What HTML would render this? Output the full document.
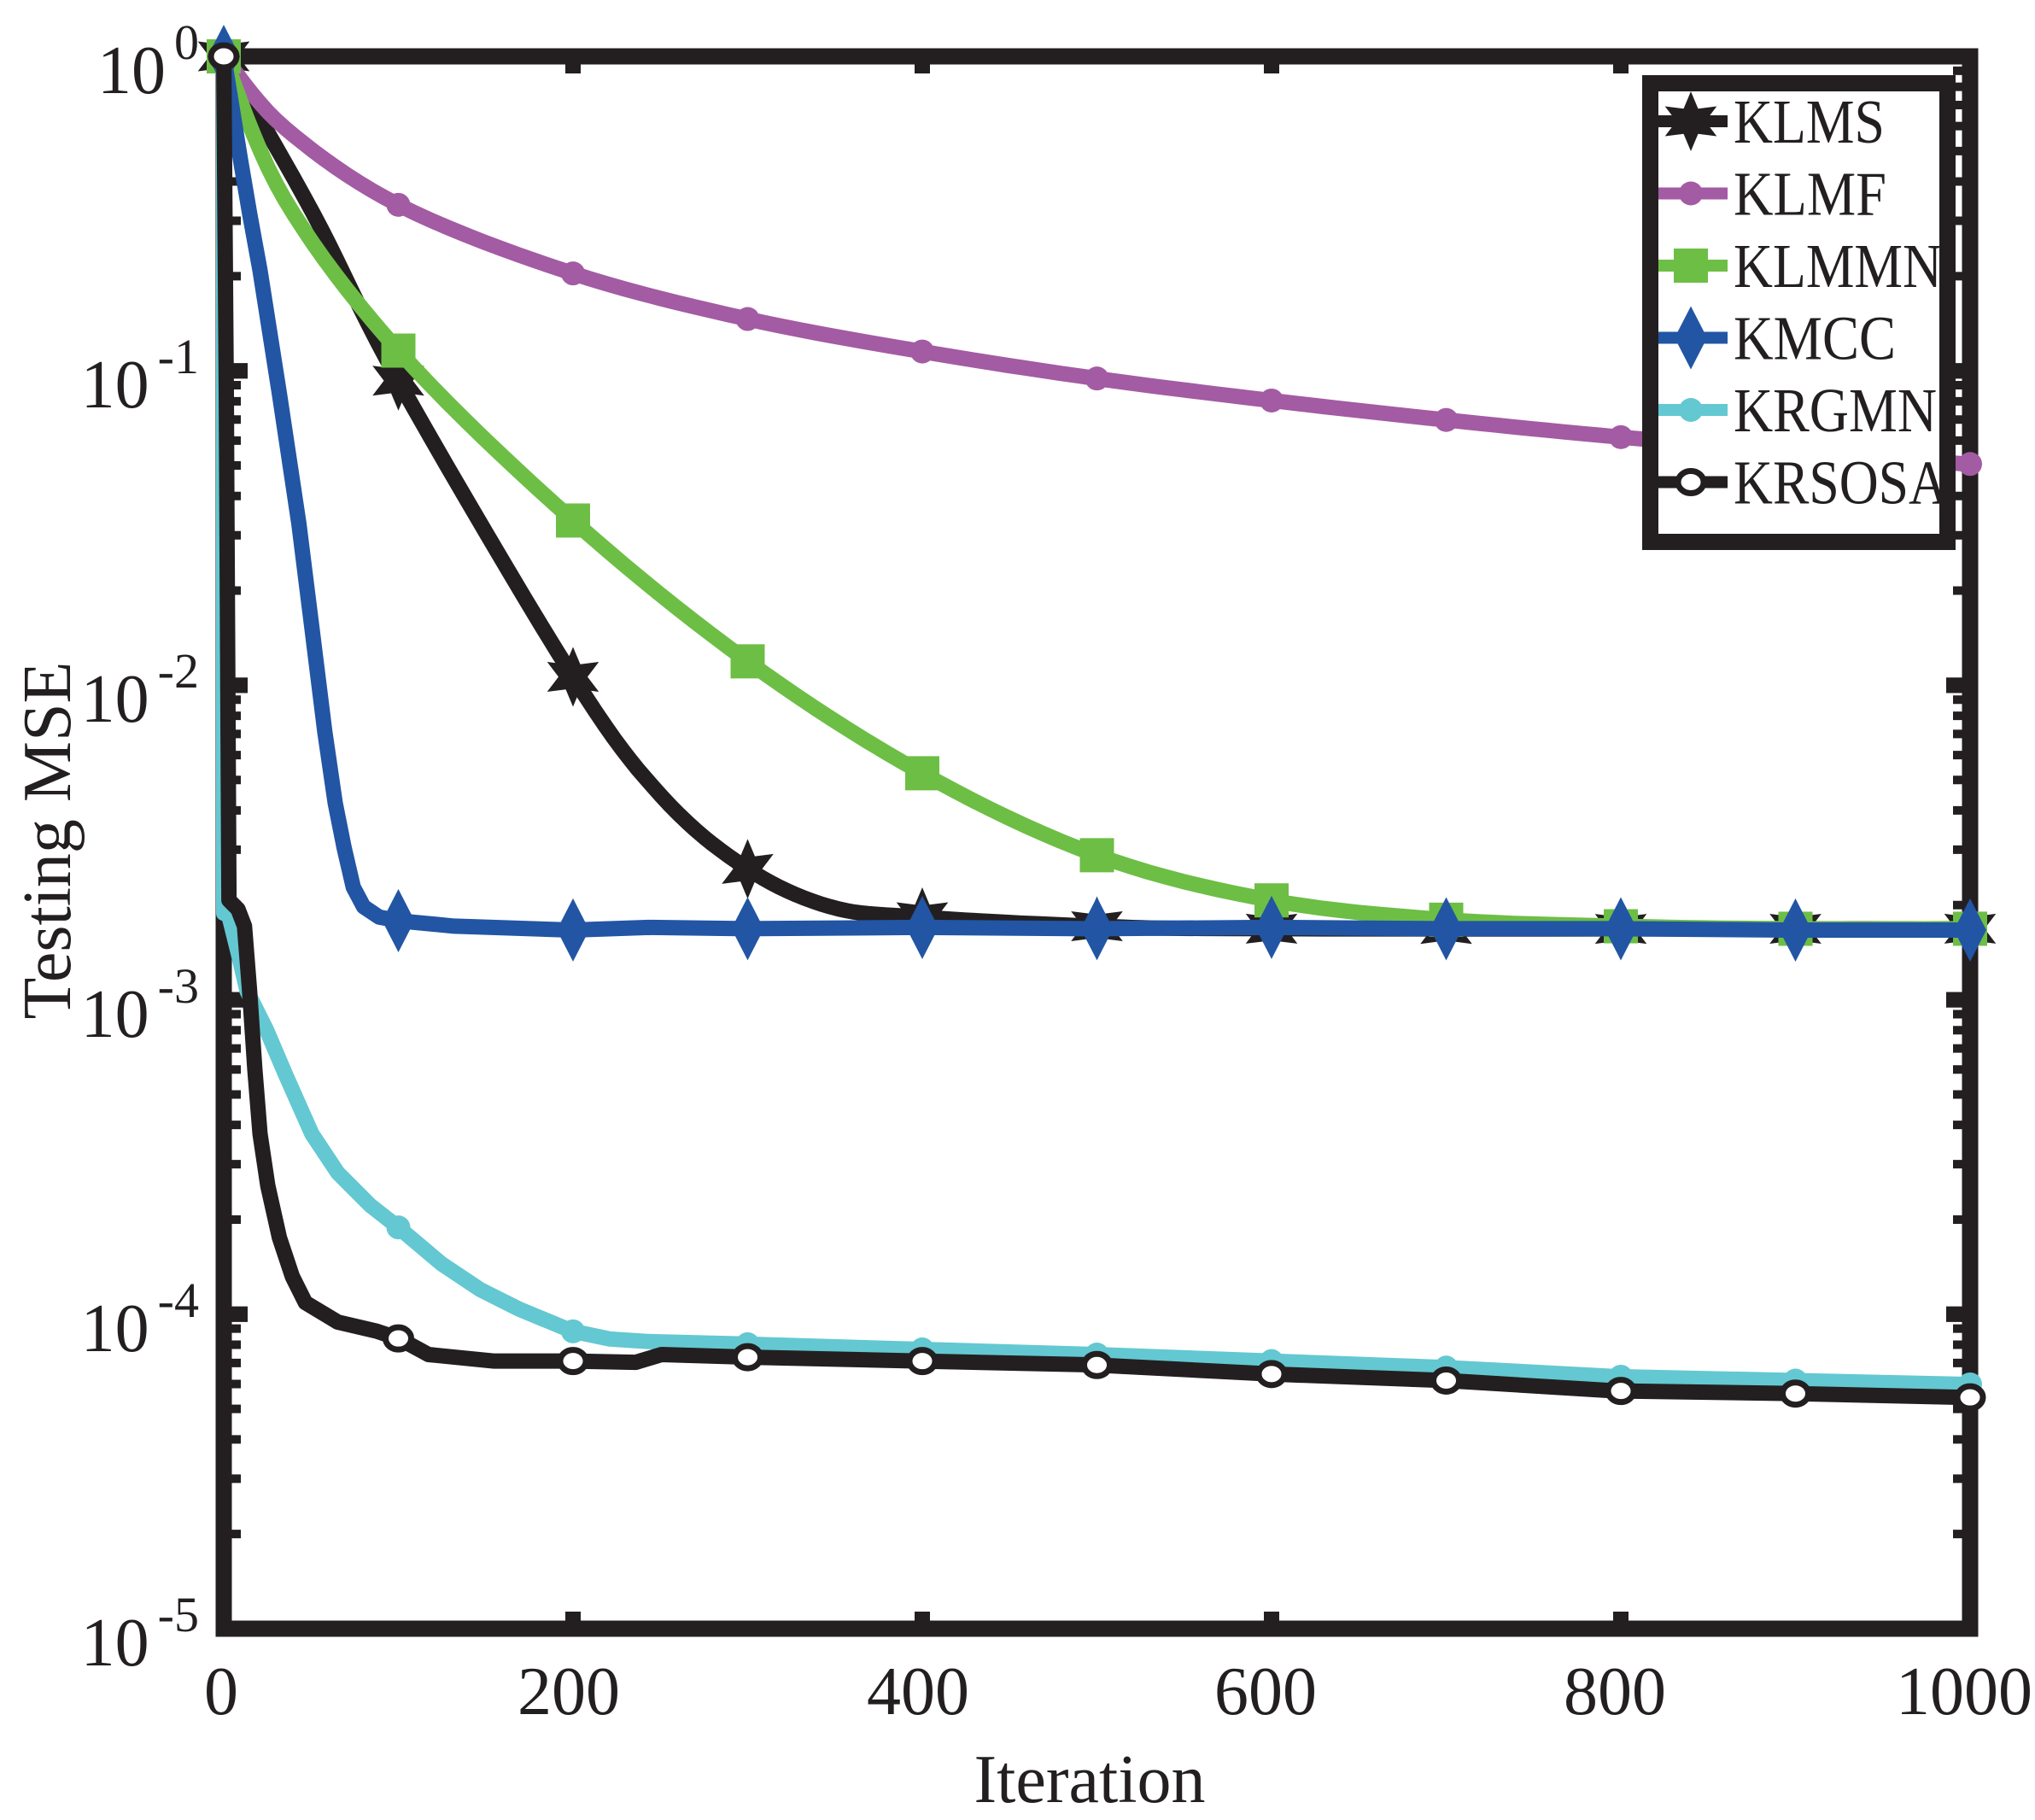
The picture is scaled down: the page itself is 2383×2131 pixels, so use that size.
<!DOCTYPE html>
<html><head><meta charset="utf-8"><style>
html,body{margin:0;padding:0;background:#fff;}
svg{display:block;}
text{font-family:"Liberation Serif","Times New Roman",serif;fill:#231F20;}
</style></head><body>
<svg id="s" width="2383" height="2131" viewBox="0 0 2383 2131" xmlns="http://www.w3.org/2000/svg">
<rect width="2383" height="2131" fill="#fff"/>
<g id="axes"></g>
<g id="series"></g>
<g id="labels" font-size="80">
<text x="233" y="109" text-anchor="end">10<tspan dx="10" dy="-40" font-size="58">0</tspan></text>
<text x="233" y="477" text-anchor="end">10<tspan dx="10" dy="-40" font-size="58">-1</tspan></text>
<text x="233" y="845" text-anchor="end">10<tspan dx="10" dy="-40" font-size="58">-2</tspan></text>
<text x="233" y="1214" text-anchor="end">10<tspan dx="10" dy="-40" font-size="58">-3</tspan></text>
<text x="233" y="1582" text-anchor="end">10<tspan dx="10" dy="-40" font-size="58">-4</tspan></text>
<text x="233" y="1950" text-anchor="end">10<tspan dx="10" dy="-40" font-size="58">-5</tspan></text>
<text x="259" y="2007" text-anchor="middle">0</text>
<text x="666" y="2007" text-anchor="middle">200</text>
<text x="1075" y="2007" text-anchor="middle">400</text>
<text x="1482" y="2007" text-anchor="middle">600</text>
<text x="1891" y="2007" text-anchor="middle">800</text>
<text x="2300" y="2007" text-anchor="middle">1000</text>
<text x="1276" y="2110" text-anchor="middle">Iteration</text>
<text transform="translate(82,984) rotate(-90)" text-anchor="middle">Testing MSE</text>
</g>
<g id="legend"></g>
</svg>
<script>
var NS="http://www.w3.org/2000/svg";
function el(p,n,a){var e=document.createElementNS(NS,n);for(var k in a)e.setAttribute(k,a[k]);p.appendChild(e);return e;}
var K="#231F20";
var X0=262,X1=2307,Y0=66,Y1=1907,DEC=(Y1-Y0)/5;
var ax=document.getElementById('axes');
for(var i=0;i<=1000;i+=200){var x=X0+i*2.045;
 el(ax,'line',{x1:x,x2:x,y1:Y1,y2:Y1-20,stroke:K,'stroke-width':18});
 el(ax,'line',{x1:x,x2:x,y1:Y0,y2:Y0+20,stroke:K,'stroke-width':18});}
for(var d=0;d<5;d++){for(var k=1;k<=10;k++){var y=Y0+DEC*(d+1)-Math.log10(k)*DEC;var L=(k==1||k==10)?28:20;var w=(k==1||k==10)?18:10;
 el(ax,'line',{x1:X0,x2:X0+L,y1:y,y2:y,stroke:K,'stroke-width':w});
 el(ax,'line',{x1:X1,x2:X1-L,y1:y,y2:y,stroke:K,'stroke-width':w});}}
el(ax,'rect',{x:X0,y:Y0,width:X1-X0,height:Y1-Y0,fill:'none',stroke:K,'stroke-width':19});

function cv(p){return p.map(function(q){return [262+(q[0]-172)*1.517,66+(q[1]-40)*1.52];});}
function smooth(p){var o=[];for(var i=0;i<p.length-1;i++){var p0=p[Math.max(0,i-1)],p1=p[i],p2=p[i+1],p3=p[Math.min(p.length-1,i+2)];
 for(var t=0;t<1;t+=0.1){var t2=t*t,t3=t2*t;
  var x=0.5*((2*p1[0])+(-p0[0]+p2[0])*t+(2*p0[0]-5*p1[0]+4*p2[0]-p3[0])*t2+(-p0[0]+3*p1[0]-3*p2[0]+p3[0])*t3);
  var y=0.5*((2*p1[1])+(-p0[1]+p2[1])*t+(2*p0[1]-5*p1[1]+4*p2[1]-p3[1])*t2+(-p0[1]+3*p1[1]-3*p2[1]+p3[1])*t3);
  o.push([x,y]);}}o.push(p[p.length-1]);return o;}
function yAt(pts,x){for(var i=0;i<pts.length-1;i++){if(pts[i+1][0]>=x&&pts[i][0]<=x){var a=pts[i],b=pts[i+1];if(b[0]==a[0])return a[1];return a[1]+(b[1]-a[1])*(x-a[0])/(b[0]-a[0]);}}return pts[pts.length-1][1];}

function marker(g,type,x,y,c){
 if(type=='star'){var pts=[];for(var j=0;j<12;j++){var r=(j%2==0)?35:17;var a=-Math.PI/2+j*Math.PI/6;pts.push((x+r*Math.cos(a)).toFixed(1)+','+(y+r*Math.sin(a)).toFixed(1));}el(g,'polygon',{points:pts.join(' '),fill:c});}
 else if(type=='sq'){el(g,'rect',{x:x-20,y:y-20,width:40,height:40,fill:c});}
 else if(type=='dia'){el(g,'polygon',{points:(x)+','+(y-37)+' '+(x+19)+','+y+' '+x+','+(y+37)+' '+(x-19)+','+y,fill:c});}
 else if(type=='dot'){el(g,'circle',{cx:x,cy:y,r:14,fill:c});}
 else if(type=='circ'){el(g,'ellipse',{cx:x,cy:y,rx:15,ry:13,fill:'#fff',stroke:c,'stroke-width':7});}
}
var S=[
 {c:K,m:'star',sm:true,p:[[172,40],[241,161],[308,292],[441,517],[510,610],[575,665],[640,695],[709,703],[845,710],[980,712],[1517,712]]},
 {c:"#A35BA3",m:'dot',sm:true,p:[[172,40],[219,95],[308,155],[441,207],[575,242],[709,267],[845,288],[980,305],[1115,320],[1247,333],[1382,344],[1517,354]]},
 {c:"#6DBE45",m:'sq',sm:true,p:[[172,40],[219,150],[308,268],[441,397],[575,505],[709,591],[845,655],[980,690],[1115,705],[1247,710],[1382,712],[1517,712]]},
 {c:"#2255A4",m:'dia',sm:false,p:[[172,40],[185,120],[192,161],[200,205],[215,300],[230,400],[240,480],[250,560],[258,615],[265,650],[272,680],[280,695],[292,703],[308,706],[350,710],[441,713],[500,711],[575,712],[709,711],[845,712],[980,711],[1115,712],[1247,712],[1382,713],[1517,713]]},
 {c:"#63C8D1",m:'dot',sm:false,p:[[172,40],[172,700],[176,702],[183,730],[190,760],[205,790],[220,825],[240,870],[260,900],[285,925],[308,943],[340,970],[370,990],[400,1005],[441,1022],[470,1028],[500,1030],[575,1032],[709,1036],[845,1040],[980,1045],[1115,1050],[1247,1057],[1382,1060],[1517,1063]]},
 {c:K,m:'circ',sm:false,p:[[172,40],[174,300],[176,690],[183,697],[188,710],[192,760],[196,820],[200,870],[206,910],[215,950],[225,980],[235,1000],[260,1015],[290,1022],[308,1028],[330,1040],[380,1045],[441,1045],[490,1046],[510,1040],[575,1042],[709,1045],[845,1048],[980,1055],[1115,1060],[1247,1068],[1382,1070],[1517,1073]]}
];
var sg=document.getElementById('series');
S.forEach(function(s){var p=cv(s.p);var pts=s.sm?smooth(p):p;
 el(sg,'polyline',{points:pts.map(function(q){return q[0].toFixed(1)+','+q[1].toFixed(1);}).join(' '),fill:'none',stroke:s.c,'stroke-width':18,'stroke-linejoin':'round','stroke-linecap':'round'});
 for(var i=0;i<=1000;i+=100){var x=X0+i*2.045;var y=(i==0)?Y0:yAt(pts,x);marker(sg,s.m,x,y,s.c);}
});
// legend
var lg=document.getElementById('legend');
var LX=1923,LY=88,LW=367,LH=556;
el(lg,'rect',{x:LX,y:LY,width:LW,height:LH,fill:'#fff'});
var names=['KLMS','KLMF','KLMMN','KMCC','KRGMN','KRSOSA'];
var lens=[177,179,244,190,238,251];
var cp=el(lg,'clipPath',{id:'lc'});el(cp,'rect',{x:LX+19,y:LY+19,width:LW-38,height:LH-38});
var tg=el(lg,'g',{'clip-path':'url(#lc)'});
for(var i=0;i<6;i++){var y=142+i*84.5;var s=S[i];
 el(tg,'line',{x1:1940,x2:2023,y1:y,y2:y,stroke:s.c,'stroke-width':14});
 marker(tg,s.m,1980,y,s.c);
 var t=el(tg,'text',{x:2030,y:y+25,'font-size':73,textLength:lens[i],lengthAdjust:'spacingAndGlyphs'});t.textContent=names[i];}
el(lg,'rect',{x:LX+9.5,y:LY+9.5,width:LW-19,height:LH-19,fill:'none',stroke:K,'stroke-width':19});
</script>
</body></html>
